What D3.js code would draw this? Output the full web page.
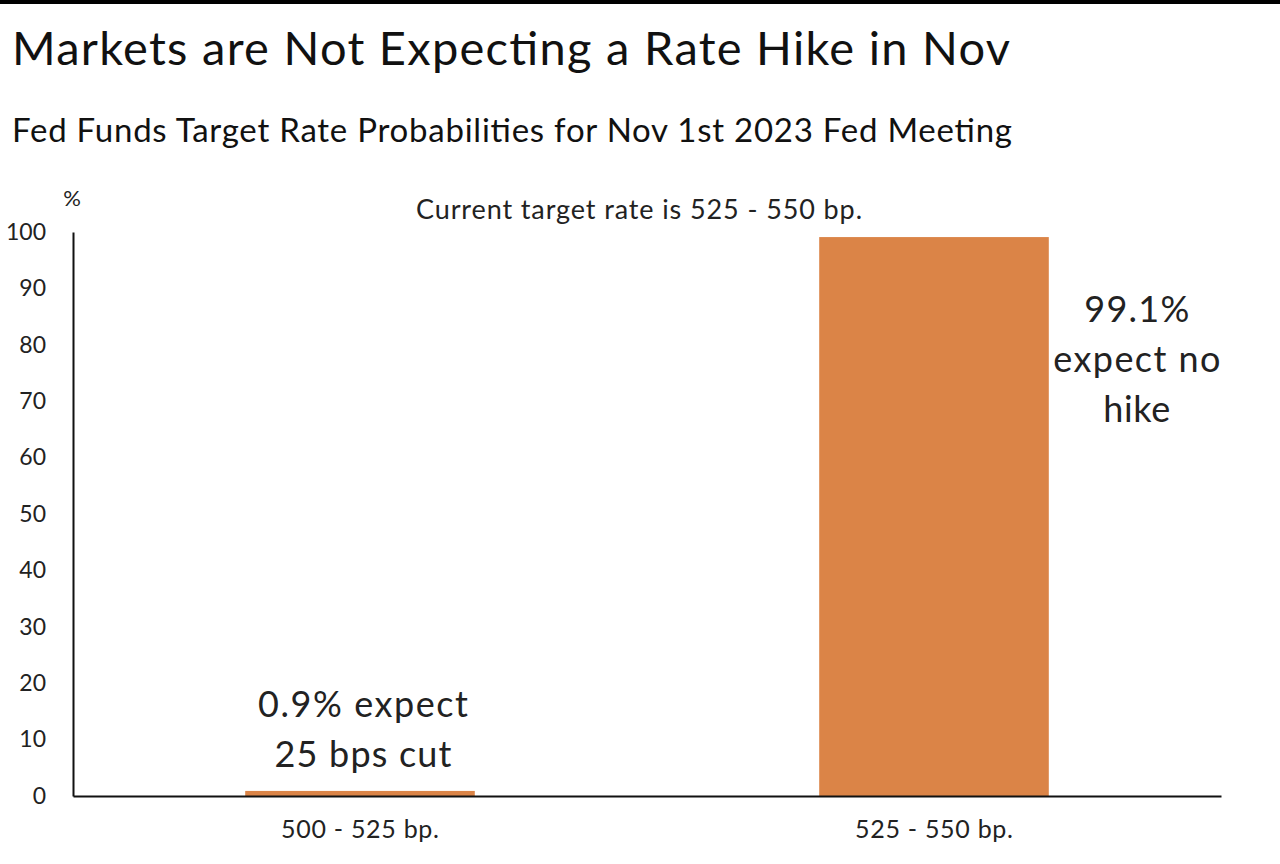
<!DOCTYPE html>
<html>
<head>
<meta charset="utf-8">
<script src="https://cdn.jsdelivr.net/npm/d3@7"></script>
<style>
  body { margin: 0; background: #fff; }
  svg { display: block; font-family: Lato, "Open Sans", sans-serif; }
</style>
</head>
<body>
<svg id="chart"></svg>
<script>
const categories = ['500 - 525 bp.', '525 - 550 bp.']
const probabilities = [0.9, 99.1]
const yTicks = [0, 10, 20, 30, 40, 50, 60, 70, 80, 90, 100]
const barNotes = [['0.9% expect', '25 bps cut'], ['99.1%', 'expect no', 'hike']]

const width = 1280
const height = 864
const margin = {top: 232, right: 59, bottom: 68, left: 73}

const svg = d3.select('#chart').attr('width', width).attr('height', height)

// black strip at the very top
svg.append('rect').attr('x', 0).attr('y', 0).attr('width', width).attr('height', 4).attr('fill', '#000')

svg.append('text').attr('x', 12).attr('y', 65).attr('font-size', 47).attr('fill', '#111')
  .attr('textLength', 998).attr('lengthAdjust', 'spacing')
  .text('Markets are Not Expecting a Rate Hike in Nov')
svg.append('text').attr('x', 12).attr('y', 142).attr('font-size', 33).attr('fill', '#111')
  .attr('textLength', 1000).attr('lengthAdjust', 'spacing')
  .text('Fed Funds Target Rate Probabilities for Nov 1st 2023 Fed Meeting')

const x = d3.scaleBand().domain(categories)
  .range([margin.left, width - margin.right])
  .paddingInner(0.6).paddingOuter(0.3)
const y = d3.scaleLinear().domain([0, 100]).range([height - margin.bottom, margin.top])

// bars
svg.append('g').selectAll('rect').data(probabilities).join('rect')
  .attr('x', (d, i) => x(categories[i]))
  .attr('y', d => y(d))
  .attr('width', x.bandwidth())
  .attr('height', d => y(0) - y(d))
  .attr('fill', '#db8447')

// y axis
const yAxis = svg.append('g').attr('transform', `translate(${margin.left},0)`)
  .call(d3.axisLeft(y).tickValues(yTicks).tickSize(0).tickPadding(27))
yAxis.select('.domain').attr('stroke', '#111').attr('stroke-width', 2)
yAxis.selectAll('text').attr('font-size', 23).attr('fill', '#222').attr('font-family', 'Lato, sans-serif')

// x axis
const xAxis = svg.append('g').attr('transform', `translate(0,${y(0)})`)
  .call(d3.axisBottom(x).tickSize(0).tickPadding(24))
xAxis.select('.domain').attr('stroke', '#111').attr('stroke-width', 2)
xAxis.selectAll('text').attr('font-size', 25).attr('fill', '#222').attr('font-family', 'Lato, sans-serif')
  .attr('textLength', 158).attr('lengthAdjust', 'spacing')

svg.append('text').attr('x', 72).attr('y', 206).attr('text-anchor', 'middle')
  .attr('font-size', 22).attr('fill', '#222').text('%')
svg.append('text').attr('x', 639).attr('y', 219).attr('text-anchor', 'middle')
  .attr('font-size', 27).attr('fill', '#222')
  .attr('textLength', 446).attr('lengthAdjust', 'spacing')
  .text('Current target rate is 525 - 550 bp.')

// annotations next to / above the bars
const noteX = [x(categories[0]) + x.bandwidth() / 2 + 3, x(categories[1]) + x.bandwidth() + 88]
const noteY = [717, 322]
const noteWidths = [[210, 177], [105, 167, 67]]
barNotes.forEach((lines, i) => {
  lines.forEach((s, j) => {
    svg.append('text').attr('text-anchor', 'middle').attr('font-size', 36).attr('fill', '#222')
      .attr('x', noteX[i]).attr('y', noteY[i] + j * 50)
      .attr('textLength', noteWidths[i][j]).attr('lengthAdjust', 'spacing')
      .text(s)
  })
})
</script>
</body>
</html>
